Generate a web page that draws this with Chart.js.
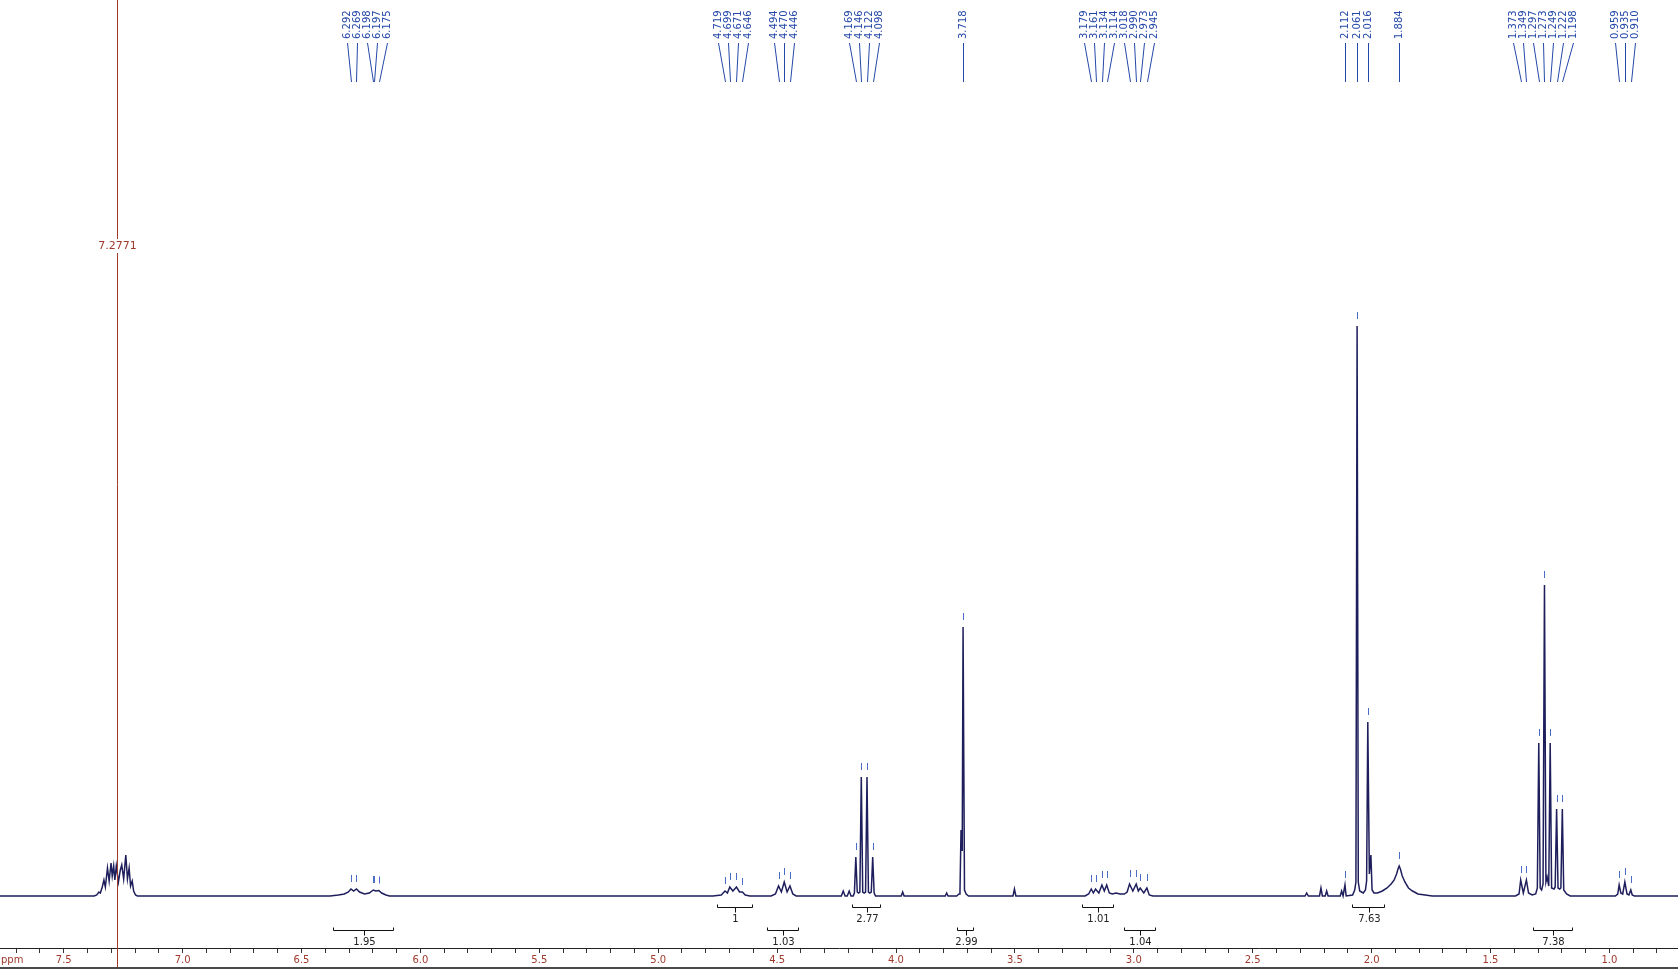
<!DOCTYPE html>
<html>
<head>
<meta charset="utf-8">
<script src="https://cdn.jsdelivr.net/npm/chart.js@4.4.1/dist/chart.umd.min.js"></script>
<style>
  html, body { margin: 0; padding: 0; background: #fff; }
  canvas { display: block; }
</style>
</head>
<body>
<canvas id="nmr" width="1678" height="969"></canvas>
<script>
// spectrum window (ppm), x axis runs right to left
const ppmLeft = 7.768;
const ppmRight = 0.7115;
const solventPpm = 7.2771;

// trace vertices [ppm, intensity], region by region
const traceAromatic = [[7.768,0],[7.372,0],[7.361,1],[7.352,4],[7.346,3],[7.338,9],[7.331,16],[7.325,9],[7.316,28],[7.309,15],[7.301,33],[7.296,20],[7.290,30],[7.285,16],[7.279,30],[7.270,14],[7.262,26],[7.256,31],[7.248,17],[7.239,41],[7.232,17],[7.225,28],[7.219,10],[7.212,15],[7.206,5],[7.198,1],[7.190,0]];
const traceOlefin = [[6.380,0],[6.345,1],[6.320,2],[6.303,4],[6.292,7],[6.281,5],[6.269,7],[6.256,4],[6.235,2],[6.215,3],[6.198,6],[6.188,5],[6.175,5.5],[6.163,3],[6.145,1],[6.130,0]];
const trace47 = [[4.770,0],[4.735,1],[4.719,5],[4.709,3],[4.699,9],[4.686,5],[4.671,9],[4.658,4],[4.646,4],[4.634,1],[4.615,0]];
const trace45 = [[4.525,0],[4.507,2],[4.494,10],[4.482,4],[4.470,14],[4.458,4],[4.446,10],[4.434,2],[4.420,0]];
const trace42 = [[4.230,0],[4.222,5],[4.214,0],[4.205,0],[4.197,5],[4.189,0]];
const trace41 = [[4.180,0],[4.175,3],[4.169,39],[4.163,4],[4.158,3],[4.152,4],[4.146,119],[4.140,4],[4.134,3],[4.128,4],[4.122,119],[4.116,4],[4.110,3],[4.104,4],[4.098,39],[4.092,3],[4.086,0]];
const trace39 = [[3.978,0],[3.972,4],[3.966,0],[3.793,0],[3.787,3],[3.781,0]];
const trace37 = [[3.745,0],[3.735,2],[3.731,5],[3.7266,66],[3.7215,45],[3.718,269],[3.712,6],[3.705,2],[3.695,0]];
const trace35 = [[3.508,0],[3.502,7],[3.496,0]];
const trace31 = [[3.205,0],[3.190,2],[3.179,7],[3.170,3],[3.161,7],[3.147,3],[3.134,11],[3.124,5],[3.114,11],[3.103,3],[3.090,2],[3.075,3],[3.058,2],[3.040,2],[3.028,4],[3.018,12],[3.004,5],[2.990,12],[2.981,5],[2.973,8],[2.958,3],[2.945,8],[2.935,1],[2.920,0]];
const trace22 = [[2.280,0],[2.273,3],[2.266,0],[2.219,0],[2.213,8],[2.207,0],[2.195,0],[2.189,5],[2.183,0],[2.132,0],[2.126,5],[2.120,0],[2.117,0],[2.112,11],[2.107,0]];
const trace20 = [[2.080,1],[2.071,6],[2.066,14],[2.061,570],[2.056,14],[2.050,5],[2.035,3],[2.026,6],[2.021,15],[2.016,174],[2.0095,22],[2.003,41],[1.998,6],[1.990,3],[1.975,3],[1.955,5],[1.935,8],[1.918,12],[1.905,16],[1.895,22],[1.889,27],[1.884,30],[1.879,27],[1.871,20],[1.860,14],[1.845,8],[1.828,5],[1.805,2],[1.775,1],[1.745,0]];
const trace13 = [[1.395,0],[1.380,2],[1.373,16],[1.362,3],[1.349,16],[1.340,3],[1.325,1],[1.310,2],[1.303,8],[1.297,153],[1.291,8],[1.285,6],[1.279,12],[1.273,311],[1.267,14],[1.262,19],[1.255,10],[1.249,153],[1.243,8],[1.233,7],[1.228,9],[1.222,87],[1.216,8],[1.209,7],[1.204,8],[1.198,87],[1.192,6],[1.180,2],[1.165,0]];
const trace09 = [[0.975,0],[0.965,2],[0.959,11],[0.952,3],[0.944,2],[0.935,14],[0.926,2],[0.918,1],[0.910,6],[0.904,1],[0.895,0],[0.7115,0]];

// picked peaks (labels at the top) and their heights
const peakPpm = [6.292,6.269,6.198,6.197,6.175, 4.719,4.699,4.671,4.646, 4.494,4.470,4.446,
  4.169,4.146,4.122,4.098, 3.718, 3.179,3.161,3.134,3.114,3.018,2.990,2.973,2.945,
  2.112,2.061,2.016, 1.884, 1.373,1.349,1.297,1.273,1.249,1.222,1.198, 0.959,0.935,0.910];
const peakHeight = [7,7,6,6,5.5, 5,9,9,4, 10,14,10,
  39,119,119,39, 269, 7,7,11,11,12,12,8,8,
  11,570,174, 30, 16,16,153,311,153,87,87, 11,14,6];

// integrals: from, to (ppm), value
const intFrom = [6.366, 4.751, 4.541, 4.184, 3.742, 3.219, 3.040, 2.084, 1.320];
const intTo   = [6.114, 4.607, 4.411, 4.066, 3.675, 3.086, 2.911, 1.947, 1.156];
const intValue = ['1.95', '1', '1.03', '2.77', '2.99', '1.01', '1.04', '7.63', '7.38'];

const trace = [].concat(traceAromatic, traceOlefin, trace47, trace45, trace42, trace41,
  trace39, trace37, trace35, trace31, trace22, trace20, trace13, trace09)
  .map(p => ({ x: p[0], y: p[1] }));

const RED = '#a03a2c';
const BLUE = '#2448a8';
const FONT = '"DejaVu Sans", Verdana, sans-serif';

// spread labels of close peaks so they keep a minimum gap
function spreadLabels(xs, gap) {
  let groups = xs.map(x => ({ n: 1, sum: x }));
  let merged = true;
  while (merged) {
    merged = false;
    for (let k = 0; k < groups.length - 1; k++) {
      const a = groups[k], b = groups[k + 1];
      const aEnd = a.sum / a.n + (a.n - 1) * gap / 2;
      const bStart = b.sum / b.n - (b.n - 1) * gap / 2;
      if (bStart - aEnd < gap) {
        a.n += b.n; a.sum += b.sum;
        groups.splice(k + 1, 1);
        merged = true;
        break;
      }
    }
  }
  const out = [];
  groups.forEach(g => {
    const c = g.sum / g.n;
    for (let j = 0; j < g.n; j++) out.push(c + (j - (g.n - 1) / 2) * gap);
  });
  return out;
}

const nmrDecor = {
  id: 'nmrDecor',
  afterDatasetsDraw(chart) {
    const ctx = chart.ctx;
    const xs = chart.scales.x, ys = chart.scales.y;
    const base = ys.getPixelForValue(0);

    // solvent reference line
    const rx = Math.round(xs.getPixelForValue(solventPpm)) + 0.5;
    ctx.save();
    ctx.strokeStyle = RED;
    ctx.lineWidth = 1;
    ctx.beginPath();
    ctx.moveTo(rx, 0);
    ctx.lineTo(rx, chart.height);
    ctx.stroke();
    ctx.font = '11px ' + FONT;
    const label = solventPpm.toFixed(4);
    const w = ctx.measureText(label).width;
    ctx.fillStyle = '#fff';
    ctx.fillRect(rx - w / 2 - 2, 239, w + 4, 14);
    ctx.fillStyle = RED;
    ctx.textAlign = 'center';
    ctx.textBaseline = 'middle';
    ctx.fillText(label, rx, 246);

    // peak labels
    const px = peakPpm.map(p => xs.getPixelForValue(p));
    const lx = spreadLabels(px, 10);
    ctx.font = '10px ' + FONT;
    ctx.strokeStyle = BLUE;
    ctx.fillStyle = BLUE;
    ctx.textAlign = 'left';
    peakPpm.forEach((p, i) => {
      ctx.beginPath();
      ctx.moveTo(Math.round(lx[i]) + 0.5, 43);
      ctx.lineTo(Math.round(px[i]) + 0.5, 82);
      ctx.stroke();
      ctx.save();
      ctx.translate(Math.round(lx[i]) + 0.5, 39);
      ctx.rotate(-Math.PI / 2);
      ctx.fillText(p.toFixed(3), 0, 0);
      ctx.restore();
    });

    // small marks above each picked peak
    ctx.strokeStyle = '#4a6cc4';
    peakPpm.forEach((p, i) => {
      const top = ys.getPixelForValue(peakHeight[i]);
      const x = Math.round(px[i]) + 0.5;
      ctx.beginPath();
      ctx.moveTo(x, top - 14);
      ctx.lineTo(x, top - 7);
      ctx.stroke();
    });

    // integrals, alternating between two rows
    ctx.strokeStyle = '#111';
    ctx.fillStyle = '#222';
    ctx.font = '10px ' + FONT;
    ctx.textAlign = 'center';
    intValue.forEach((v, i) => {
      const y = Math.round(base + (i % 2 === 0 ? 34 : 11)) + 0.5;
      const x1 = Math.round(xs.getPixelForValue(intFrom[i])) + 0.5;
      const x2 = Math.round(xs.getPixelForValue(intTo[i])) + 0.5;
      const xc = Math.round((x1 + x2) / 2) + 0.5;
      ctx.beginPath();
      ctx.moveTo(x1, y - 3);
      ctx.lineTo(x1, y);
      ctx.lineTo(x2, y);
      ctx.lineTo(x2, y - 3);
      ctx.moveTo(xc, y);
      ctx.lineTo(xc, y + 5);
      ctx.stroke();
      ctx.fillText(v, xc, y + 12);
    });

    // axis unit
    ctx.fillStyle = RED;
    ctx.textAlign = 'left';
    ctx.fillText('ppm', 1, 960);

    // bottom frame line
    ctx.fillStyle = '#4a4a4a';
    ctx.fillRect(0, chart.height - 2, chart.width, 2);
    ctx.restore();
  }
};

new Chart(document.getElementById('nmr').getContext('2d'), {
  type: 'line',
  data: {
    datasets: [{
      data: trace,
      borderColor: '#1e1e5c',
      borderWidth: 1.5,
      pointRadius: 0,
      tension: 0,
      fill: false
    }]
  },
  options: {
    responsive: false,
    animation: false,
    events: [],
    layout: { padding: 0 },
    plugins: { legend: { display: false }, tooltip: { enabled: false } },
    scales: {
      x: {
        type: 'linear',
        reverse: true,
        min: ppmRight,
        max: ppmLeft,
        afterFit(scale) { scale.height = 21; },
        border: { display: true, color: '#222', width: 1 },
        grid: { drawOnChartArea: false, tickLength: 5, color: '#333' },
        ticks: {
          stepSize: 0.1,
          includeBounds: false,
          autoSkip: false,
          maxRotation: 0,
          minRotation: 0,
          padding: 1,
          color: RED,
          font: { family: FONT, size: 10 },
          callback(value) {
            const v = Number(value);
            return Math.abs(v * 2 - Math.round(v * 2)) < 1e-6 ? v.toFixed(1) : '';
          }
        }
      },
      y: {
        display: false,
        min: -52,
        max: 896
      }
    }
  },
  plugins: [nmrDecor]
});
</script>
</body>
</html>
